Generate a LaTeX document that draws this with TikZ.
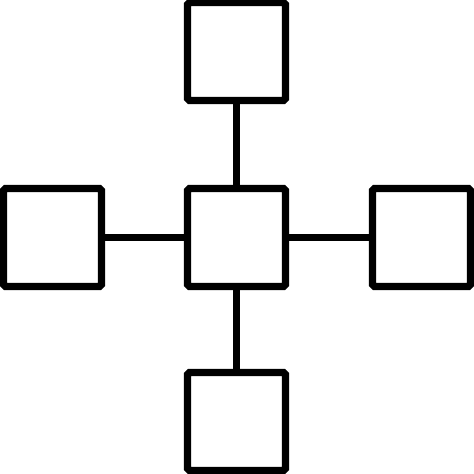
\documentclass[tikz,border=0pt]{standalone}
\usepackage{tikz}
\tikzset{
    every node/.style={rectangle, inner sep=0mm, draw, line width=2pt, rounded corners=0.5pt, minimum size=0.98cm}
}
\tikzset{link/.style={line width=1.8pt}}

\begin{document}
\begin{tikzpicture}
    \useasboundingbox (0cm, 0cm) rectangle (4.74cm, 4.74cm);
    \node (hub) at (2.365cm, 2.365cm) {};
    \node (top) at (2.365cm, 4.225cm) {};
    \node (bot) at (2.365cm, 0.525cm) {};
    \node (lft) at (0.525cm, 2.365cm) {};
    \node (rgt) at (4.215cm, 2.365cm) {};

    \draw[link] (hub) -- (top);
    \draw[link] (hub) -- (bot);
    \draw[link] (hub) -- (lft);
    \draw[link] (hub) -- (rgt);
\end{tikzpicture}
\end{document}
